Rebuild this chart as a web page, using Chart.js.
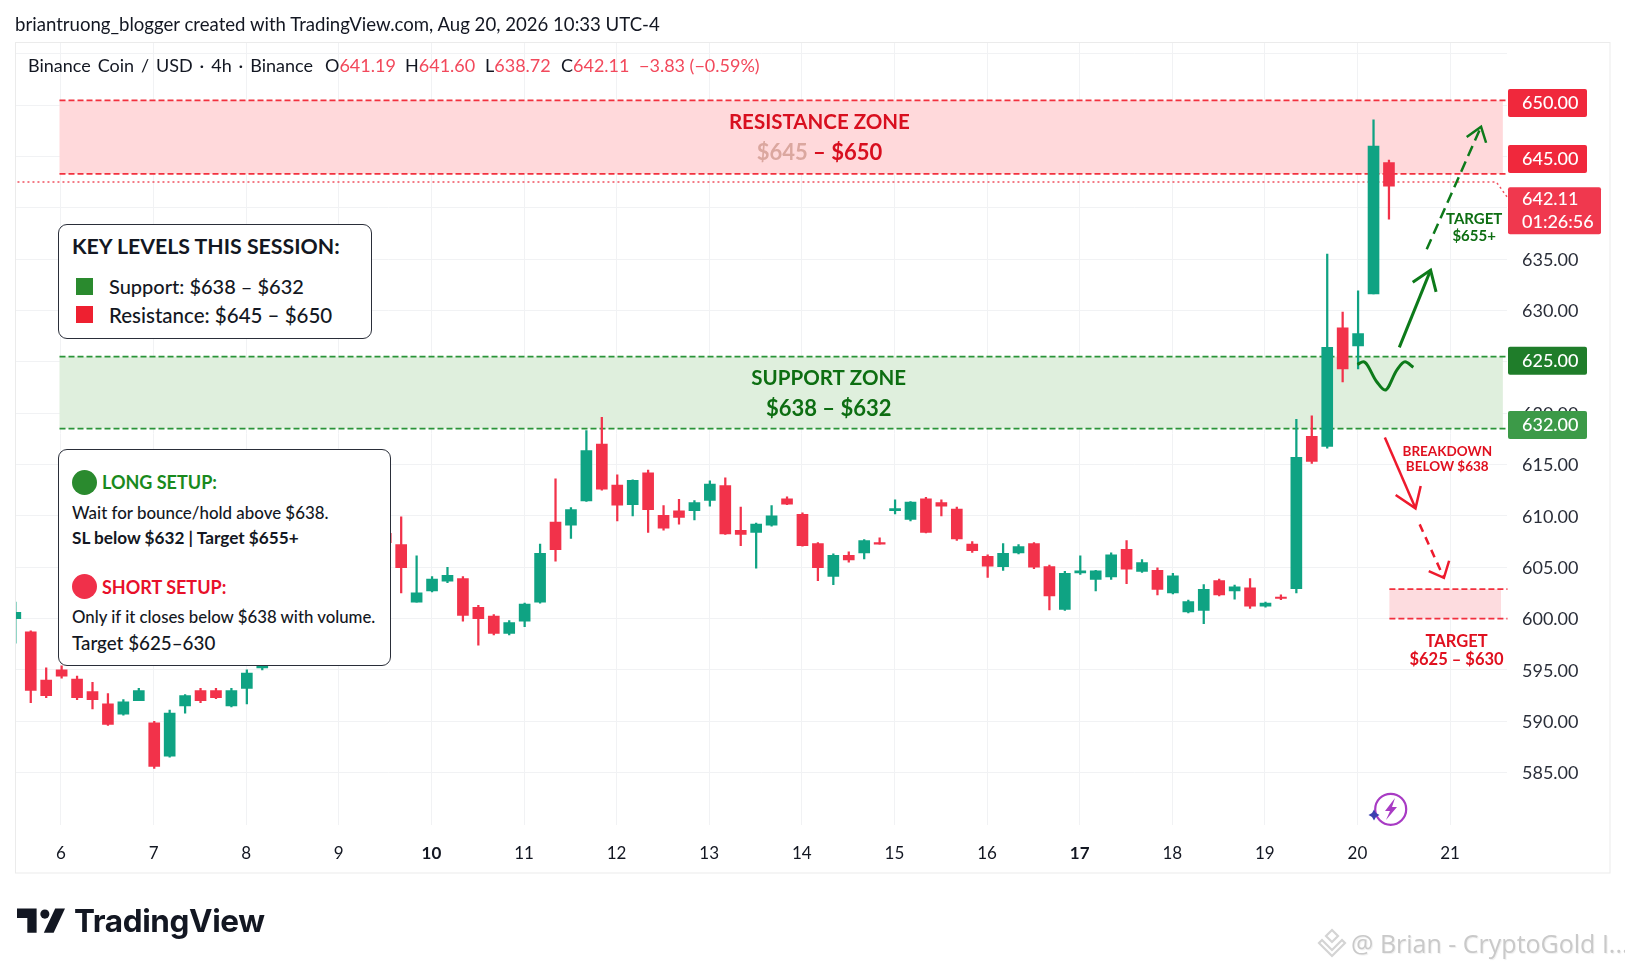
<!DOCTYPE html>
<html>
<head>
<meta charset="utf-8">
<script src="https://cdn.jsdelivr.net/npm/chart.js@4/dist/chart.umd.min.js"></script>
<style>
html,body{margin:0;padding:0;background:#fff;overflow:hidden}
#wrap{position:relative;width:1625px;height:968px;font-family:Lato,sans-serif;color:#131722}
canvas{position:absolute;left:0;top:0}
.t{position:absolute;white-space:nowrap;line-height:1;transform:translateY(-50%)}
.panel{position:absolute;box-sizing:border-box;background:#fff;border:1.5px solid #2a2e39;border-radius:9px}
.sq{position:absolute;width:17px;height:17px}
.dot{position:absolute;width:25px;height:25px;border-radius:50%}
.r{color:#f2495c}
svg{position:absolute;overflow:visible}
</style>
</head>
<body>
<div id="wrap">
<canvas id="c" width="1625" height="968"></canvas>

<div class="t" style="left:15px;top:24px;font-size:18.6px">briantruong_blogger created with TradingView.com, Aug 20, 2026 10:33 UTC-4</div>
<div class="t" style="left:28px;top:65px;font-size:18px;word-spacing:2.300px">Binance Coin / USD · 4h · Binance</div>
<div class="t" style="left:325px;top:65px;font-size:18px">O<span class="r">641.19</span></div>
<div class="t" style="left:405px;top:65px;font-size:18px">H<span class="r">641.60</span></div>
<div class="t" style="left:485px;top:65px;font-size:18px">L<span class="r">638.72</span></div>
<div class="t" style="left:561px;top:65px;font-size:18px">C<span class="r">642.11</span></div>
<div class="t r" style="left:639px;top:65px;font-size:18px">−3.83 (−0.59%)</div>

<div class="panel" style="left:58px;top:224px;width:314px;height:115px"></div>
<div class="t" style="left:72px;top:247px;font-size:21.300px;font-weight:700">KEY LEVELS THIS SESSION:</div>
<div class="sq" style="left:76px;top:278px;background:#2a8a2e"></div>
<div class="t" style="left:109px;top:286px;font-size:20px;font-weight:500">Support: $638 – $632</div>
<div class="sq" style="left:76px;top:306px;background:#ee2030"></div>
<div class="t" style="left:109px;top:315px;font-size:20.500px;font-weight:500">Resistance: $645 – $650</div>

<div class="panel" style="left:58px;top:449px;width:333px;height:217px"></div>
<div class="dot" style="left:72px;top:470px;background:#2a8a2e"></div>
<div class="t" style="left:102px;top:482px;font-size:18px;font-weight:700;color:#198a1d">LONG SETUP:</div>
<div class="t" style="left:72px;top:513px;font-size:16.900px;font-weight:500">Wait for bounce/hold above $638.</div>
<div class="t" style="left:72px;top:538px;font-size:17.200px;font-weight:700">SL below $632 | Target $655+</div>
<div class="dot" style="left:72px;top:574px;background:#f0304a"></div>
<div class="t" style="left:102px;top:587px;font-size:18px;font-weight:700;color:#e8102a">SHORT SETUP:</div>
<div class="t" style="left:72px;top:617px;font-size:16.800px;font-weight:500">Only if it closes below $638 with volume.</div>
<div class="t" style="left:72px;top:643px;font-size:18.800px;font-weight:500">Target $625–630</div>

<svg style="left:1370px;top:790px" width="40" height="40" viewBox="0 0 40 40">
  <circle cx="20.700" cy="19.300" r="15.500" fill="none" stroke="#a83bc4" stroke-width="2.200"/>
  <path d="M25 8 L15 21 L20 21 L16 30 L27 17 L22 17 Z" fill="#a83bc4"/>
  <path d="M4 19.500 L6 23 L9.500 25 L6 27 L4 30.500 L2 27 L-1.500 25 L2 23 Z" fill="#3b3fb0"/>
</svg>

<svg style="left:17px;top:908px" width="48" height="26" viewBox="0 0 46.5 24">
  <path d="M0 0H19V23.500H10V9H0Z" fill="#131722"/>
  <circle cx="27" cy="5.300" r="4.400" fill="#131722"/>
  <path d="M46.500 0H37L26 23.500H35.500Z" fill="#131722"/>
</svg>
<div class="t" style="left:74px;top:921px;font-family:Inter,sans-serif;font-size:31.500px;font-weight:700;letter-spacing:-.4px;color:#131722">TradingView</div>

<svg style="left:1318px;top:929px" width="28" height="28" viewBox="0 0 28 28">
  <path d="M14 1 L20 7 L14 13 L8 7Z M4 11 L9 16 L14 21 L19 16 L24 11 L27 14 L14 27 L1 14Z" fill="none" stroke="#d4d4d4" stroke-width="2.2"/>
</svg>
<div class="t" style="left:1351px;top:943px;font-size:25px;color:#c9c9c9;font-family:'Open Sans',sans-serif;text-shadow:1px 1px 1px #eee">@ Brian - CryptoGold I...</div>
</div>

<script>
// 4h candles, first one sits half a day before the "6" tick
const firstDay = 5.507
const candlesPerDay = 6
const candleOpen = [600,598.7,594,595,594.1,592.9,591.7,590.7,592,589.85,586.6,591.5,593,593,591.5,593.2,595.2,597.5,596.8,599,601.5,600.6,603.5,605.2,608.3,607.2,601.6,602.7,603.65,603.9,601.1,600.25,598.55,599.75,601.6,609.4,609.1,611.45,617,613,611.1,614.2,610.05,610.5,610.5,611.5,612.95,608.6,608.4,609.1,611.65,610.15,607.3,604.1,606.15,606.4,607.4,610.5,609.65,611.65,611.3,610.65,607.25,606.05,605.05,606.4,607.3,605.05,600.9,604.45,603.8,604.05,606.75,604.6,604.7,602.5,600.65,600.8,603.7,602.7,603,601.2,602.1,602.9,617.75,616.75,628.3,626.55,631.6,644.4]
const candleHigh = [601.6,598.8,595.2,595.4,594.4,593.8,592.7,592.1,593.2,590,591.1,592.6,593.2,593.2,593.2,595,598.5,598.6,599.4,602.2,602.1,604.6,606,608.8,609,609.9,606.1,604.1,605,604.1,601.3,600.4,599.8,601.5,607.25,613.6,610.8,618.3,619.6,614,613.5,614.45,611,611.6,611.5,613.4,613.7,610.85,609.3,611,611.85,610.3,607.4,606.3,606.5,607.7,607.85,611.55,611.4,611.8,611.55,610.85,607.5,606.2,607.3,607.2,607.4,605.2,604.6,606.1,604.7,606.4,607.6,605.75,604.95,604.4,601.8,603.3,603.85,603.25,603.9,601.6,602.3,619.4,619.75,635.5,629.85,631.9,648.55,644.65]
const candleLow = [597.6,591.8,592.3,594.2,592.1,591.2,589.6,590.6,592,585.4,586.5,590.8,591.8,592.2,591.4,591.7,595,596.3,596.2,598.5,600.2,600,602.8,604.6,607.2,602.5,601.6,602.6,603.5,599.75,597.4,598.4,598.4,599.2,601.5,605.6,607.8,611.4,612.5,609.5,610,608.4,608.6,609.2,609.6,610.95,608.2,607.1,604.9,609,611.1,607.05,603.7,603.3,605.5,605.8,607.25,610.2,609.5,608.35,610,607.6,606.45,604,604.7,606.3,604.85,600.85,600.8,604.3,602.7,603.8,603.4,604.5,602.3,602.4,600.55,599.5,602.2,601.9,601,601.1,601.85,602.5,615.1,616.6,623.05,624.3,631.6,638.9]
const candleClose = [600.6,593,592.5,594.4,592.3,592.1,589.7,591.9,593,585.6,590.8,592.5,592,592.3,593,594.7,597.5,596.8,599,601.5,600.6,603.5,605.2,608.3,607.4,604.95,602.5,603.85,604.2,600.3,600,598.55,599.6,601.4,606.35,606.7,610.6,616.35,612.6,611.05,613.45,610.6,608.8,609.85,611.3,613.1,608.25,608.2,609.2,610,611.15,607.1,604.95,606.15,605.7,607.6,607.25,610.7,611.35,608.4,610.95,607.75,606.6,605.1,606.35,607,605,602.2,604.4,604.65,604.65,606.2,604.8,605.45,602.85,604.15,601.65,602.85,602.3,603.1,601.2,601.5,601.95,615.7,615.3,626.4,624.3,627.75,646,642.11]

const priceTicks = [585,590,595,600,605,610,615,620,625,630,635,640,645,650,655]
const hiddenPriceLabels = [655]
const dayTicks = [6,7,8,9,10,11,12,13,14,15,16,17,18,19,20,21]
const boldDays = [10,17]

const resistanceZone = [643.3,650.45]
const supportZone = [618.5,625.5]
const targetZone = [600,602.87]
const zoneDays = [5.984,21.57,21.62]
const targetZoneDays = [20.345,21.55,21.62]
const lastPriceLine = [[5.53,642.5],[21.5,642.5],[21.62,641]]

const priceTags = [
  {text:['650.00'],price:650.2,color:'#f0283c'},
  {text:['645.00'],price:644.75,color:'#f0283c'},
  {text:['642.11','01:26:56'],price:639.7,color:'#f0384e'},
  {text:['625.00'],price:625.1,color:'#1f7d2a'},
  {text:['632.00'],price:618.85,color:'#3c9a48'},
]

const waveDays = [19.999,20.064,20.208,20.298,20.425,20.514,20.604]
const wavePrices = [624.75,625,623.06,622.25,624.2,625,624.46]

const greenArrow = [[20.452,626.4],[20.79,633.93]]
const greenArrowHead = [[20.597,632.74],[20.79,633.93],[20.849,631.82]]
const greenDash = [[20.748,635.95],[21.335,647.89]]
const greenDashHead = [[21.18,646.9],[21.335,647.89],[21.389,646.33]]
const redArrow = [[20.296,617.64],[20.627,610.73]]
const redArrowHead = [[20.413,612.03],[20.627,610.73],[20.683,612.9]]
const redDash = [[20.672,609.17],[20.934,603.97]]
const redDashHead = [[20.77,604.63],[20.934,603.97],[20.99,605.63]]

const GREEN = '#0fa383', RED = '#f2324a'
const FONT = 'Lato, sans-serif'

const candleDay = candleOpen.map((_, i) => firstDay + i / candlesPerDay)
const upDown = candleOpen.map((o, i) => candleClose[i] >= o ? GREEN : RED)

// zones, dashed levels, arrows and tags are all placed through the two scales
const overlays = {
  id: 'overlays',
  beforeDatasetsDraw(chart) {
    const {ctx, scales: {x, y}} = chart
    const band = (days, prices, fill, line, w) => {
      ctx.fillStyle = fill
      ctx.fillRect(x.getPixelForValue(days[0]), y.getPixelForValue(prices[1]),
        x.getPixelForValue(days[1]) - x.getPixelForValue(days[0]),
        y.getPixelForValue(prices[0]) - y.getPixelForValue(prices[1]))
      ctx.strokeStyle = line
      ctx.lineWidth = w
      ctx.setLineDash([6, 3])
      prices.forEach(p => {
        ctx.beginPath()
        ctx.moveTo(x.getPixelForValue(days[0]), y.getPixelForValue(p))
        ctx.lineTo(x.getPixelForValue(days[2]), y.getPixelForValue(p))
        ctx.stroke()
      })
      ctx.setLineDash([])
    }
    band(zoneDays, resistanceZone, '#ffd9db', '#f2303e', 1.8)
    band(zoneDays, supportZone, '#dfefdd', '#2a9438', 1.8)
    band(targetZoneDays, targetZone, '#fddcdf', '#f2303e', 1.8)

    ctx.strokeStyle = '#f0505f'
    ctx.lineWidth = 1.5
    ctx.setLineDash([2, 3])
    ctx.beginPath()
    lastPriceLine.forEach(([d, p], i) => ctx[i ? 'lineTo' : 'moveTo'](x.getPixelForValue(d), y.getPixelForValue(p)))
    ctx.stroke()
    ctx.setLineDash([])
  },
  afterDatasetsDraw(chart) {
    const {ctx, scales: {x, y}} = chart
    const poly = (pts, color, w, dash) => {
      ctx.strokeStyle = color
      ctx.lineWidth = w
      ctx.lineJoin = 'miter'
      ctx.setLineDash(dash || [])
      ctx.beginPath()
      pts.forEach(([d, p], i) => ctx[i ? 'lineTo' : 'moveTo'](x.getPixelForValue(d), y.getPixelForValue(p)))
      ctx.stroke()
      ctx.setLineDash([])
    }
    poly(greenArrow, '#0d7a1a', 3)
    poly(greenArrowHead, '#0d7a1a', 3)
    poly(greenDash, '#0d7a1a', 2.5, [11, 6])
    poly(greenDashHead, '#0d7a1a', 2.5)
    poly(redArrow, '#ee1a2d', 2.5)
    poly(redArrowHead, '#ee1a2d', 2.5)
    poly(redDash, '#ee1a2d', 2.5, [8, 6])
    poly(redDashHead, '#ee1a2d', 2.5)

    const label = (text, day, price, size, color) => {
      ctx.font = `700 ${size}px ${FONT}`
      ctx.fillStyle = color
      ctx.textAlign = 'center'
      ctx.textBaseline = 'middle'
      ctx.fillText(text, x.getPixelForValue(day), y.getPixelForValue(price))
    }
    label('RESISTANCE ZONE', 14.19, 648.3, 20.5, '#d80f1f')
    // the first price of the resistance range is washed out in the picture
    ctx.font = `700 22px ${FONT}`
    const faded = '$645', rest = ' – $650'
    const total = ctx.measureText(faded + rest).width
    const sx = x.getPixelForValue(14.19) - total / 2, sy = y.getPixelForValue(645.35)
    ctx.textAlign = 'left'
    ctx.textBaseline = 'middle'
    ctx.fillStyle = '#dba79f'
    ctx.fillText(faded, sx, sy)
    ctx.fillStyle = '#d80f1f'
    ctx.fillText(rest, sx + ctx.measureText(faded).width, sy)
    label('SUPPORT ZONE', 14.29, 623.4, 20.5, '#0d6e12')
    label('$638 – $632', 14.29, 620.45, 22, '#0d6e12')
    label('TARGET', 21.26, 638.9, 15, '#0d6e12')
    label('$655+', 21.26, 637.2, 15, '#0d6e12')
    label('BREAKDOWN', 20.97, 616.3, 13.5, '#e0101f')
    label('BELOW $638', 20.97, 614.75, 13.5, '#e0101f')
    label('TARGET', 21.07, 597.75, 16.5, '#e0101f')
    label('$625 – $630', 21.07, 595.95, 16.5, '#e0101f')
  },
  afterDraw(chart) {
    const {ctx, chartArea, scales: {y}} = chart
    ctx.strokeStyle = '#ebebeb'
    ctx.lineWidth = 1
    ctx.strokeRect(15.5, 42.5, 1594.5, 830.5)
    priceTags.forEach(t => {
      const two = t.text.length > 1
      const h = two ? 47 : 28, w = two ? 93 : 79
      const cy = y.getPixelForValue(t.price)
      ctx.fillStyle = t.color
      ctx.beginPath()
      ctx.roundRect(chartArea.right + 1, cy - h / 2, w, h, 2)
      ctx.fill()
      ctx.fillStyle = '#fff'
      ctx.font = `500 18px ${FONT}`
      ctx.textAlign = 'left'
      ctx.textBaseline = 'middle'
      t.text.forEach((s, i) => ctx.fillText(s, chartArea.right + 15, cy + (two ? (i ? 11.5 : -11.5) : 0)))
    })
  }
}

new Chart(document.getElementById('c').getContext('2d'), {
  type: 'bar',
  data: {
    datasets: [
      {
        label: 'wick',
        data: candleDay.map((d, i) => ({x: d, y: [candleLow[i], candleHigh[i]]})),
        backgroundColor: upDown,
        barThickness: 1.6,
        grouped: false,
        order: 2
      },
      {
        label: 'body',
        data: candleDay.map((d, i) => ({x: d, y: [candleOpen[i], candleClose[i]]})),
        backgroundColor: upDown,
        barThickness: 11,
        grouped: false,
        order: 1
      },
      {
        type: 'line',
        label: 'wave',
        data: waveDays.map((d, i) => ({x: d, y: wavePrices[i]})),
        borderColor: '#0d7a1a',
        borderWidth: 3,
        pointRadius: 0,
        cubicInterpolationMode: 'monotone',
        order: 0
      }
    ]
  },
  options: {
    responsive: false,
    animation: false,
    devicePixelRatio: 1,
    layout: {padding: {left: 15.7, right: 15, top: 42, bottom: 95}},
    plugins: {legend: {display: false}, tooltip: {enabled: false}},
    scales: {
      x: {
        type: 'linear',
        offset: false,
        bounds: 'data',
        border: {display: false},
        grid: {color: '#f1f2f4', drawTicks: false, offset: false},
        afterBuildTicks(s) {
          s.min = 5.511
          s.max = 21.615
          s.ticks = dayTicks.map(v => ({value: v}))
        },
        afterFit(s) { s.height = 48 },
        ticks: {
          autoSkip: false,
          maxRotation: 0,
          padding: 18,
          color: '#131722',
          callback: v => String(v),
          font: c => ({family: FONT, size: 17, weight: boldDays.includes(c.tick && c.tick.value) ? 700 : 400})
        }
      },
      y: {
        position: 'right',
        bounds: 'data',
        border: {display: false},
        grid: {color: '#f1f2f4', drawTicks: false},
        afterBuildTicks(s) {
          s.min = 579.9
          s.max = 656.14
          s.ticks = priceTicks.map(v => ({value: v}))
        },
        afterFit(s) { s.width = 103 },
        ticks: {
          padding: 15,
          labelOffset: 1,
          color: '#2a2e39',
          callback: v => hiddenPriceLabels.includes(v) ? '' : v.toFixed(2),
          font: {family: FONT, size: 18}
        }
      }
    }
  },
  plugins: [overlays]
})
</script>
</body>
</html>
